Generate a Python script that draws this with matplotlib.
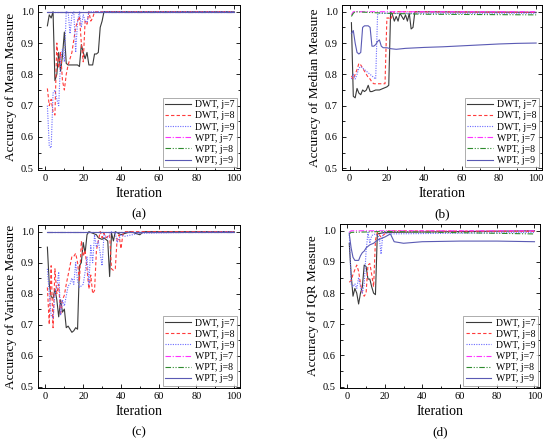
import matplotlib
matplotlib.use("Agg")
import matplotlib.pyplot as plt
from matplotlib.ticker import MultipleLocator

plt.rcParams['font.family'] = ['Liberation Serif', 'DejaVu Serif']
plt.rcParams['mathtext.fontset'] = 'stix'

labels = ['DWT, j=7', 'DWT, j=8', 'DWT, j=9', 'WPT, j=7', 'WPT, j=8', 'WPT, j=9']
colors = ['#3a3a3a', '#ff3b3b', '#6a6aff', '#ff30ff', '#2e8b2e', '#5a5ab4']
styles = ['-', (0, (3, 2)), (0, (1, 1.2)), (0, (5, 1.5, 1, 1.5)),
          (0, (5, 1.5, 1, 1.5, 1, 1.5)), '-']

ylabels = ['Accuracy of Mean Measure', 'Accuracy of Median Measure',
           'Accuracy of Variance Measure', 'Accuracy of IQR Measure']
panel_tags = ['(a)', '(b)', '(c)', '(d)']

# ---- (a) mean ----
a_x = [
    [1, 2, 3, 4, 5, 6, 7, 8, 9, 10, 11, 12, 17, 18, 19, 20, 21, 22, 23, 24, 25, 26, 27, 28, 29, 30, 31, 100],
    [1, 2, 3, 4, 5, 6, 7, 8, 9, 10, 11, 12, 13, 14, 15, 16, 17, 18, 19, 20, 21, 22, 23, 24, 25, 26, 100],
    [1, 2, 3, 4, 5, 6, 7, 8, 9, 10, 11, 12, 13, 14, 15, 16, 17, 18, 19, 20, 21, 22, 23, 100],
    [1, 100],
    [1, 100],
    [1, 100],
]
a_y = [
    [0.955, 0.99, 0.98, 1.0, 0.78, 0.80, 0.87, 0.81, 0.86, 0.935, 0.835, 0.83, 0.83, 0.825, 0.895, 0.87,
     0.85, 0.87, 0.83, 0.83, 0.83, 0.865, 0.865, 0.87, 0.95, 0.97, 1.0, 1.0],
    [0.755, 0.70, 0.72, 0.68, 0.67, 0.90, 0.82, 0.87, 0.78, 0.75, 0.80, 0.83, 0.85, 0.87, 0.91, 0.95,
     0.97, 0.985, 0.90, 0.84, 0.97, 0.96, 1.0, 0.97, 0.98, 1.0, 1.0],
    [0.70, 0.57, 0.565, 0.74, 0.75, 0.72, 0.70, 0.85, 0.88, 0.84, 1.0, 1.0, 0.93, 0.99, 1.0, 0.87,
     0.97, 1.0, 0.95, 0.99, 0.97, 0.965, 1.0, 1.0],
    [1.0, 1.0],
    [1.0, 1.0],
    [1.0, 1.0],
]

# ---- (b) median ----
b_x = [
    [1, 2, 3, 4, 5, 6, 7, 8, 9, 10, 11, 12, 14, 16, 18, 20, 21, 22, 23, 24, 25, 26, 27, 28, 29, 30,
     31, 32, 33, 34, 35, 100],
    [1, 2, 3, 4, 5, 6, 7, 8, 9, 10, 11, 12, 13, 15, 17, 19, 20, 21, 22, 23, 24, 100],
    [1, 2, 3, 4, 5, 6, 7, 8, 9, 10, 11, 12, 13, 14, 15, 16, 100],
    [1, 2, 100],
    [1, 2, 3, 20, 40, 100],
    [1, 2, 3, 4, 5, 6, 7, 8, 9, 10, 11, 12, 13, 14, 15, 16, 17, 18, 20, 22, 25, 30, 40, 50, 60, 70,
     80, 90, 100],
]
b_y = [
    [0.965, 0.73, 0.725, 0.755, 0.74, 0.735, 0.75, 0.745, 0.75, 0.765, 0.745, 0.745, 0.75, 0.75, 0.755,
     0.76, 0.765, 1.0, 0.99, 0.97, 0.985, 0.97, 0.995, 0.985, 0.975, 0.99, 0.97, 0.995, 0.945, 0.95,
     1.0, 0.998],
    [0.795, 0.785, 0.80, 0.815, 0.835, 0.83, 0.82, 0.81, 0.80, 0.79, 0.785, 0.775, 0.77, 0.77, 0.77,
     0.77, 0.98, 0.98, 0.975, 0.99, 1.0, 0.998],
    [0.785, 0.80, 0.785, 0.80, 0.82, 0.825, 0.82, 0.815, 0.81, 0.805, 0.80, 0.795, 0.79, 0.785, 0.99,
     0.995, 0.995],
    [0.99, 1.0, 1.0],
    [0.985, 0.995, 1.0, 0.995, 0.992, 0.99],
    [0.93, 0.94, 0.90, 0.87, 0.865, 0.87, 0.95, 0.955, 0.955, 0.955, 0.95, 0.89, 0.89, 0.895, 0.905,
     0.91, 0.89, 0.885, 0.885, 0.882, 0.88, 0.883, 0.886, 0.888, 0.891, 0.894, 0.897, 0.899, 0.90],
]

# ---- (c) variance ----
c_x = [
    [1, 2, 3, 4, 5, 6, 7, 8, 9, 10, 11, 12, 13, 14, 15, 16, 17, 18, 19, 20, 21, 22, 23, 25, 27, 28,
     30, 31, 33, 34, 35, 36, 37, 40, 45, 50, 52, 100],
    [1, 2, 3, 4, 5, 6, 7, 8, 9, 10, 11, 12, 13, 14, 15, 16, 17, 18, 19, 20, 21, 22, 23, 24, 25, 26,
     27, 28, 29, 30, 31, 32, 34, 35, 36, 37, 38, 39, 40, 41, 42, 100],
    [1, 2, 3, 4, 5, 6, 7, 8, 9, 10, 12, 13, 14, 15, 16, 17, 18, 20, 21, 22, 23, 24, 25, 26, 27, 28,
     30, 31, 33, 35, 37, 38, 40, 42, 46, 50, 100],
    [1, 100],
    [1, 100],
    [1, 100],
]
c_y = [
    [0.95, 0.83, 0.79, 0.785, 0.815, 0.78, 0.725, 0.78, 0.74, 0.75, 0.69, 0.695, 0.685, 0.675, 0.68,
     0.69, 0.685, 0.89, 0.90, 0.965, 0.93, 0.99, 1.0, 0.995, 0.99, 0.98, 0.975, 0.98, 0.97, 0.855,
     0.995, 0.97, 1.0, 0.99, 1.0, 0.99, 1.0, 1.0],
    [0.82, 0.70, 0.89, 0.69, 0.88, 0.80, 0.83, 0.73, 0.78, 0.795, 0.83, 0.86, 0.89, 0.92, 0.92, 0.93,
     0.90, 0.84, 0.97, 0.92, 0.94, 0.88, 0.815, 0.86, 0.80, 0.81, 0.94, 0.97, 1.0, 0.98, 0.995, 0.98,
     0.99, 0.88, 0.875, 0.88, 0.98, 0.99, 0.945, 0.99, 1.0, 1.0],
    [0.88, 0.80, 0.73, 0.72, 0.80, 0.82, 0.87, 0.73, 0.78, 0.76, 0.825, 0.83, 0.85, 0.83, 0.90, 0.84,
     0.82, 0.83, 0.87, 0.92, 0.83, 0.955, 0.90, 0.99, 0.95, 0.97, 0.89, 0.99, 0.98, 1.0, 0.995, 0.965,
     0.99, 0.985, 0.99, 0.995, 1.0],
    [1.0, 1.0],
    [1.0, 1.0],
    [1.0, 1.0],
]

# ---- (d) IQR ----
d_x = [
    [1, 2, 3, 4, 5, 6, 7, 8, 9, 10, 11, 12, 13, 14, 15, 16, 20, 100],
    [1, 2, 3, 4, 5, 6, 7, 8, 9, 10, 11, 12, 13, 14, 15, 16, 18, 20, 22, 100],
    [1, 2, 3, 4, 5, 6, 7, 8, 9, 10, 11, 12, 13, 15, 17, 18, 19, 22, 100],
    [1, 2, 100],
    [1, 2, 20, 50, 100],
    [1, 2, 3, 4, 5, 6, 7, 8, 9, 10, 12, 14, 16, 18, 20, 23, 25, 30, 40, 60, 80, 100],
]
d_y = [
    [0.96, 0.86, 0.79, 0.815, 0.80, 0.765, 0.80, 0.82, 0.89, 0.885, 0.845, 0.845, 0.82, 0.80, 0.795,
     0.99, 0.995, 1.0],
    [0.835, 0.84, 0.86, 0.875, 0.89, 0.87, 0.83, 0.80, 0.79, 0.80, 0.89, 0.895, 0.86, 0.82, 0.97,
     0.995, 0.98, 0.99, 1.0, 0.998],
    [0.995, 0.83, 0.82, 0.83, 0.815, 0.85, 0.82, 0.80, 0.83, 0.935, 0.995, 0.96, 0.985, 0.99, 0.98,
     0.925, 0.995, 0.99, 0.995],
    [0.995, 1.0, 1.0],
    [0.99, 0.995, 0.998, 0.995, 0.99],
    [0.99, 0.945, 0.915, 0.905, 0.905, 0.905, 0.92, 0.93, 0.935, 0.945, 0.955, 0.96, 0.97, 0.975,
     0.98, 0.99, 0.965, 0.96, 0.965, 0.967, 0.967, 0.965],
]

all_x = [a_x, b_x, c_x, d_x]
all_y = [a_y, b_y, c_y, d_y]

# axes boxes in figure fractions [left, bottom, width, height]
boxes = [
    [0.069, 0.614, 0.367, 0.375],
    [0.622, 0.614, 0.363, 0.375],
    [0.069, 0.118, 0.367, 0.371],
    [0.618, 0.118, 0.364, 0.373],
]

fig = plt.figure(figsize=(5.5, 4.4), dpi=100)

for k in range(4):
    ax = fig.add_axes(boxes[k])
    for i in range(6):
        ax.plot(all_x[k][i], all_y[k][i], color=colors[i], linestyle=styles[i],
                lw=0.8, label=labels[i])
    ax.set_xlim(-4, 103)
    ax.set_ylim(0.495, 1.022)
    ax.xaxis.set_major_locator(MultipleLocator(20))
    ax.xaxis.set_minor_locator(MultipleLocator(10))
    ax.yaxis.set_major_locator(MultipleLocator(0.1))
    ax.yaxis.set_minor_locator(MultipleLocator(0.05))
    ax.tick_params(which='both', direction='in', top=True, right=True, labelsize=7.5,
                   width=0.6, pad=3)
    ax.tick_params(which='major', length=3)
    ax.tick_params(which='minor', length=1.8)
    for sp in ax.spines.values():
        sp.set_linewidth(0.7)
    ax.set_xlabel('Iteration', fontsize=10, labelpad=3)
    ax.set_ylabel(ylabels[k], fontsize=9.5, labelpad=3)
    leg = ax.legend(loc='lower right', fontsize=7, frameon=True, fancybox=False,
                    edgecolor='#888888', handlelength=2.6, labelspacing=0.22,
                    borderpad=0.25, borderaxespad=0.25, handletextpad=0.5)
    leg.get_frame().set_linewidth(0.6)
    ax.text(0.5, -0.27, panel_tags[k], transform=ax.transAxes, ha='center', va='center',
            fontsize=9.5)

fig.savefig('out.png', dpi=100)
